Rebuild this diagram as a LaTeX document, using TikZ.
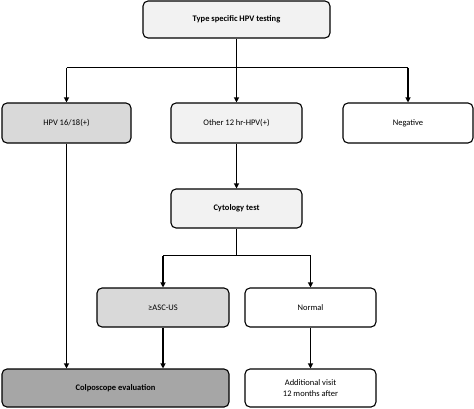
\documentclass[tikz,border=0pt]{standalone}
\usepackage{fontspec}
\setmainfont{Carlito}
\usepackage{xcolor}
\usetikzlibrary{positioning,calc,arrows.meta}

\definecolor{boxlight}{HTML}{F2F2F2}
\definecolor{boxmid}{HTML}{D9D9D9}
\definecolor{boxdark}{HTML}{A6A6A6}

\tikzset{
    flowbox/.style={draw, line width=1.1pt, rounded corners=5pt, align=center,
        inner sep=0pt, font=\fontsize{8.5}{11}\selectfont},
    flowarrow/.style={line width=1.1pt, -{Triangle[length=5pt,width=5pt]}},
    flowline/.style={line width=1.1pt}
}

\begin{document}
\begin{tikzpicture}[x=1pt,y=-1pt]
    \useasboundingbox (0,0) rectangle (474,408);

    % Top level
    \node[flowbox, fill=boxlight, minimum width=187pt, minimum height=37pt,
        font=\fontsize{8.5}{11}\selectfont\bfseries] (test) at (236.5,19.5) {Type specific HPV testing};

    % HPV results
    \node[flowbox, fill=boxmid, minimum width=129pt, minimum height=40pt] (hpv) at (66.5,123) {HPV 16/18(+)};
    \node[flowbox, fill=boxlight, minimum width=131pt, minimum height=40pt] (other) at (236.5,123) {Other 12 hr-HPV(+)};
    \node[flowbox, fill=white, minimum width=130pt, minimum height=40pt] (neg) at (408,123) {Negative};

    % Cytology
    \node[flowbox, fill=boxlight, minimum width=131pt, minimum height=39pt,
        font=\fontsize{8.5}{11}\selectfont\bfseries] (cyto) at (236.5,208.5) {Cytology test};
    \node[flowbox, fill=boxmid, minimum width=132pt, minimum height=39pt] (asc) at (163,307.5) {≥ASC-US};
    \node[flowbox, fill=white, minimum width=131pt, minimum height=39pt] (normal) at (310.5,307.5) {Normal};

    % Outcomes
    \node[flowbox, fill=boxdark, minimum width=227pt, minimum height=38pt,
        font=\fontsize{8.5}{11}\selectfont\bfseries] (colpo) at (115.5,388) {Colposcope evaluation};
    \node[flowbox, fill=white, minimum width=131pt, minimum height=38pt] (visit) at (310.5,388) {Additional visit\\12 months after};

    % Connectors
    \coordinate (split1) at ($(test.south)+(0,29)$);
    \draw[flowline] (test.south) -- (split1);
    \draw[flowline] (split1 -| hpv.north) -- (split1 -| neg.north);
    \draw[flowarrow] (split1 -| hpv.north) -- (hpv.north);
    \draw[flowarrow] (split1) -- (other.north);
    \draw[flowarrow] (split1 -| neg.north) -- (neg.north);
    \draw[flowarrow] (other.south) -- (cyto.north);

    \coordinate (split2) at ($(cyto.south)+(0,27)$);
    \draw[flowline] (cyto.south) -- (split2);
    \draw[flowline] (split2 -| asc.north) -- (split2 -| normal.north);
    \draw[flowarrow] (split2 -| asc.north) -- (asc.north);
    \draw[flowarrow] (split2 -| normal.north) -- (normal.north);

    \draw[flowarrow] (hpv.south) -- (hpv.south |- colpo.north);
    \draw[flowarrow] (asc.south) -- (asc.south |- colpo.north);
    \draw[flowarrow] (normal.south) -- (visit.north);
\end{tikzpicture}
\end{document}
